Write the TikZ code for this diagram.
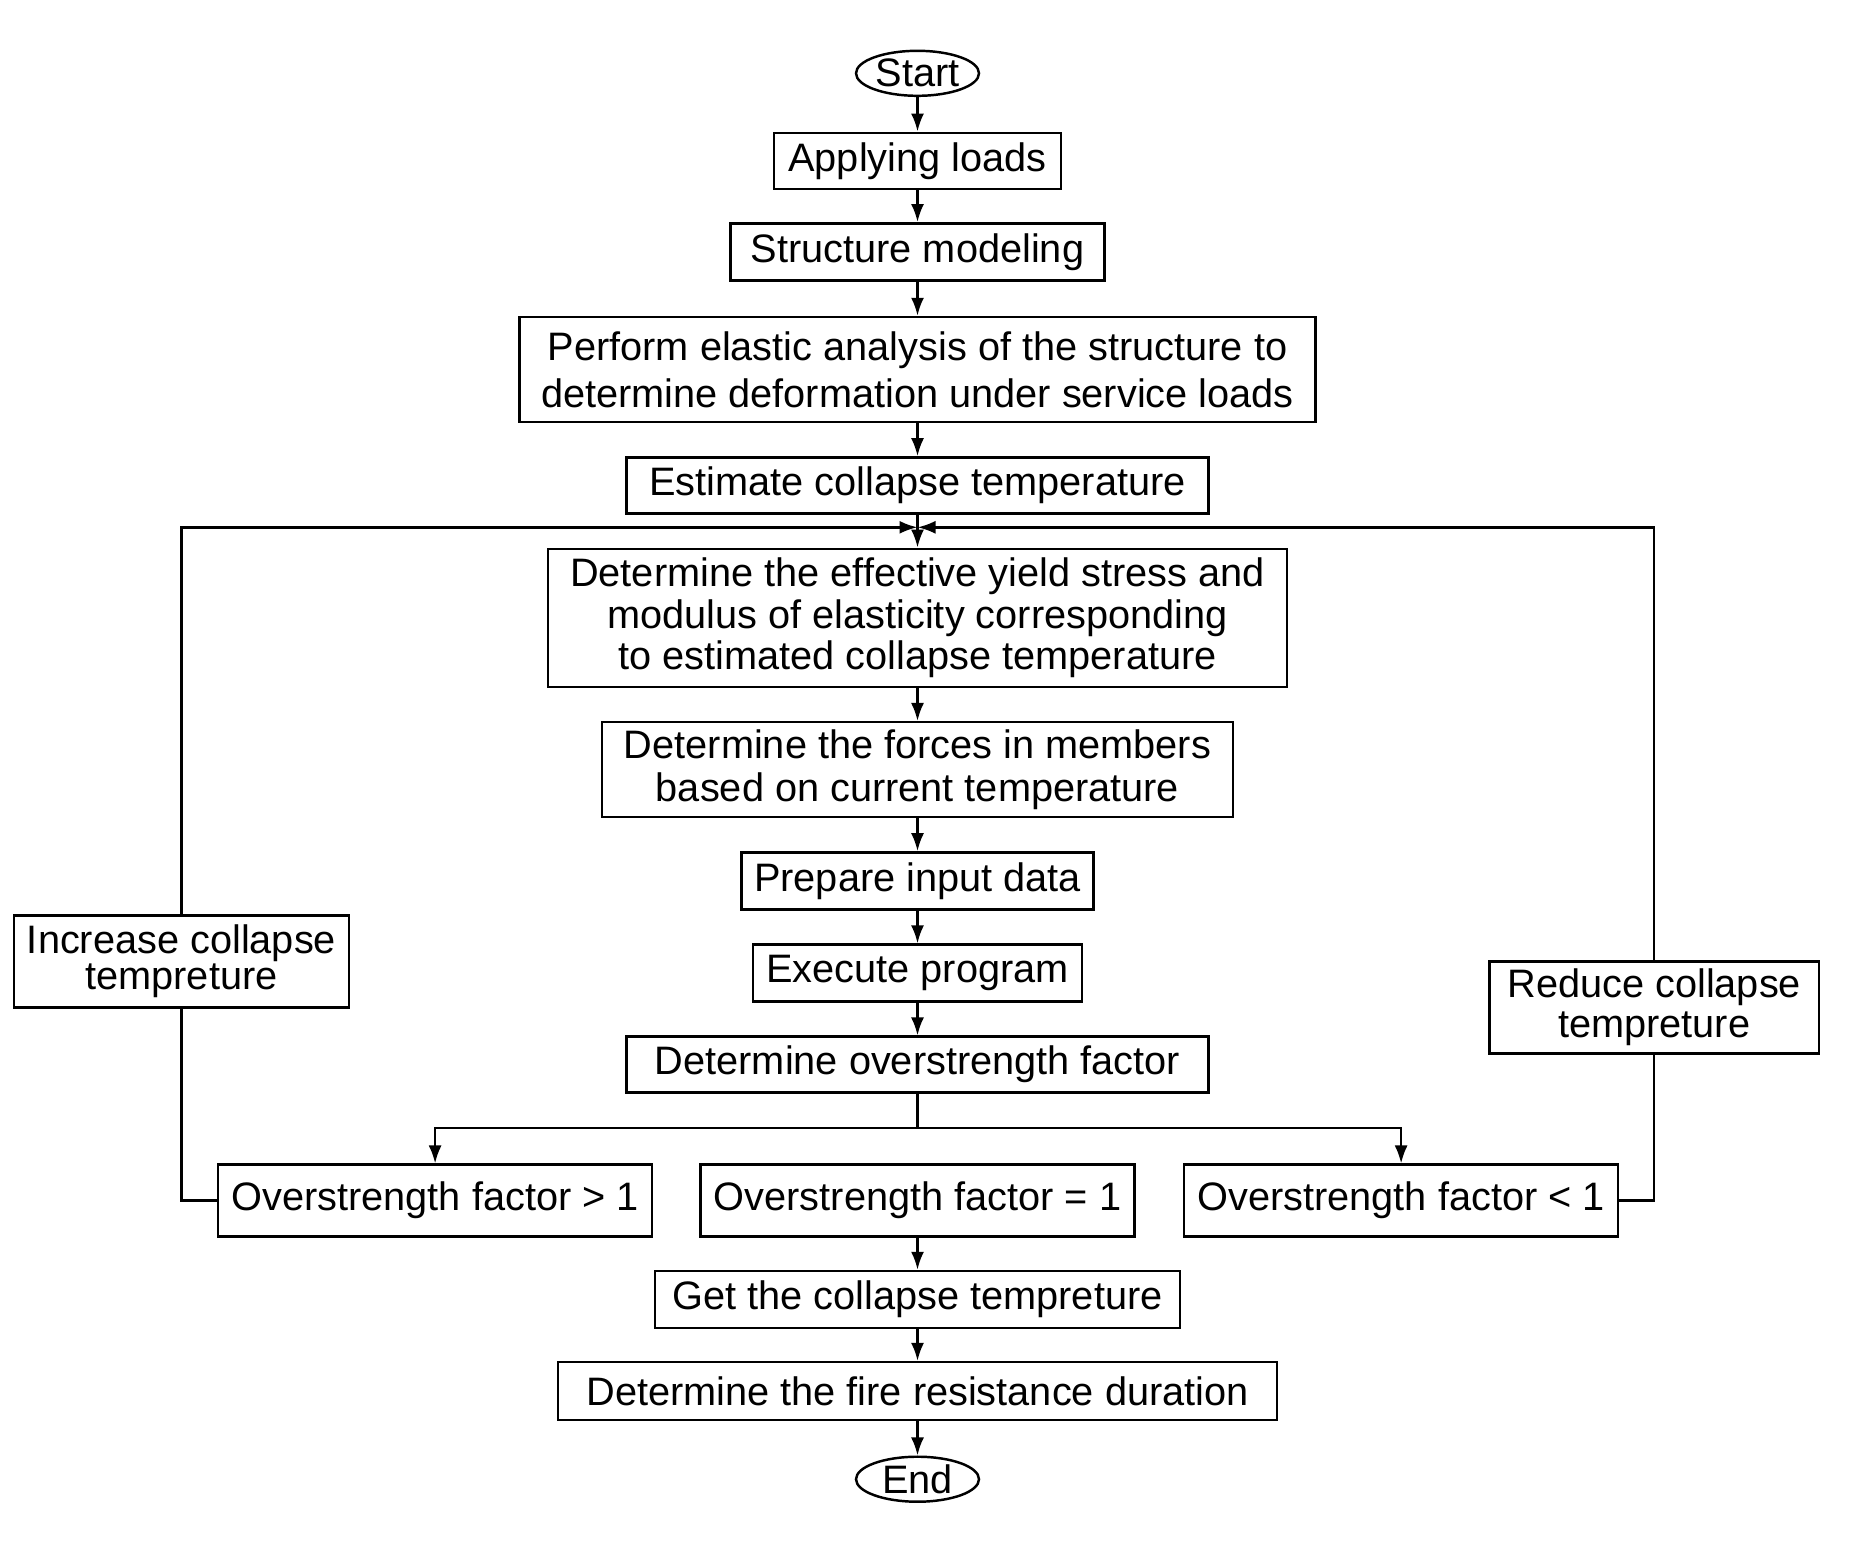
\documentclass[tikz,border=0pt]{standalone}
\usepackage{fontspec}
\setmainfont{Liberation Sans}
\usetikzlibrary{arrows.meta,calc,positioning,shapes.geometric}

\begin{document}
\begin{tikzpicture}[>={Latex[length=1.8mm,width=1.3mm]},
  line width=0.7pt,
  font=\fontsize{11.3}{13.4}\selectfont,
  box/.style={draw,rectangle,inner sep=0pt,align=center},
  term/.style={draw,ellipse,inner sep=0pt,minimum width=1.23cm,minimum height=0.45cm}]
  \useasboundingbox (0,0) rectangle (18.54,-15.50);
  % main column
  \node[term] (start) at (9.175,-0.733) {Start};
  \node[box,minimum width=2.87cm,minimum height=0.56cm] (load) at (9.175,-1.608) {Applying loads};
  \node[box,minimum width=3.74cm,minimum height=0.57cm] (model) at (9.175,-2.518) {Structure modeling};
  \node[box,minimum width=7.96cm,minimum height=1.05cm] (elastic) at (9.175,-3.695)
    {Perform elastic analysis of the structure to\\determine deformation under service loads};
  \node[box,minimum width=5.82cm,minimum height=0.56cm] (est) at (9.175,-4.854) {Estimate collapse temperature};
  \node[box,minimum width=7.39cm,minimum height=1.38cm] (eff) at (9.175,-6.178)
    {Determine the effective yield stress and\\[-1.5pt]modulus of elasticity corresponding\\[-1.5pt]to estimated collapse temperature};
  \node[box,minimum width=6.31cm,minimum height=0.95cm] (forces) at (9.175,-7.697)
    {Determine the forces in members\\[-1pt]based on current temperature};
  \node[box,minimum width=3.52cm,minimum height=0.57cm] (input) at (9.175,-8.809) {Prepare input data};
  \node[box,minimum width=3.29cm,minimum height=0.57cm] (exec) at (9.175,-9.731) {Execute program};
  \node[box,minimum width=5.82cm,minimum height=0.56cm] (osf) at (9.175,-10.647) {Determine overstrength factor};
  % three outcomes
  \node[box,minimum width=4.34cm,minimum height=0.72cm] (ofgt) at (4.351,-12.007) {Overstrength factor > 1};
  \node[box,minimum width=4.34cm,minimum height=0.72cm] (ofeq) at (9.175,-12.007) {Overstrength factor = 1};
  \node[box,minimum width=4.34cm,minimum height=0.72cm] (oflt) at (14.011,-12.007) {Overstrength factor < 1};
  \node[box,minimum width=5.25cm,minimum height=0.57cm] (get) at (9.175,-12.995) {Get the collapse tempreture};
  \node[box,minimum width=7.19cm,minimum height=0.58cm] (fire) at (9.175,-13.911) {Determine the fire resistance duration};
  \node[term] (end) at (9.175,-14.792) {End};
  % side boxes
  \node[box,minimum width=3.35cm,minimum height=0.92cm] (inc) at (1.815,-9.613) {Increase collapse\\[-3pt]tempreture};
  \node[box,minimum width=3.29cm,minimum height=0.92cm] (red) at (16.542,-10.074) {Reduce collapse\\[-2pt]tempreture};
  \coordinate (merge) at (9.175,-5.273);
  \coordinate (split) at (9.175,-11.28);

  \draw[->] (start) -- (load);
  \draw[->] (load) -- (model);
  \draw[->] (model) -- (elastic);
  \draw[->] (elastic) -- (est);
  \draw[->] (est) -- (eff);
  \draw[->] (eff) -- (forces);
  \draw[->] (forces) -- (input);
  \draw[->] (input) -- (exec);
  \draw[->] (exec) -- (osf);
  \draw (osf) -- (split);
  \draw[->] (split) -| (ofgt.north);
  \draw[->] (split) -| (oflt.north);
  \draw[->] (ofeq) -- (get);
  \draw[->] (get) -- (fire);
  \draw[->] (fire) -- (end);
  % loops back
  \draw (ofgt.west) -| (inc.south);
  \draw[->] (inc.north) |- (merge);
  \draw (oflt.east) -| (red.south);
  \draw[->] (red.north) |- (merge);
\end{tikzpicture}
\end{document}
